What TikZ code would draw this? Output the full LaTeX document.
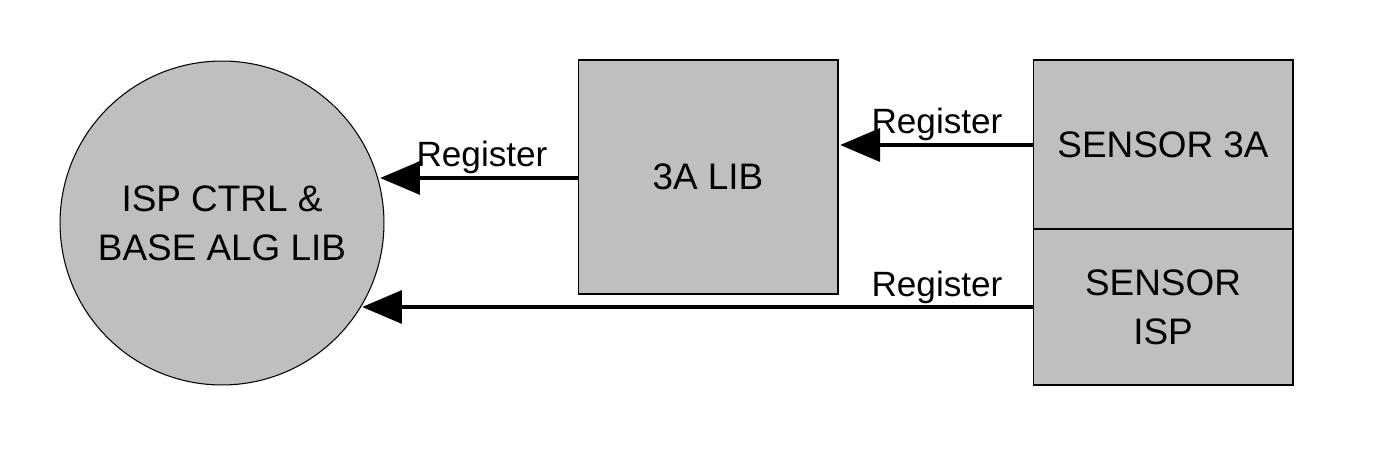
\documentclass[tikz,border=0pt]{standalone}
\usepackage{fontspec}
\setmainfont{Liberation Sans}
\usetikzlibrary{arrows.meta}
\begin{document}
\begin{tikzpicture}[x=0.02cm,y=-0.02cm,
  blk/.style={draw=black,fill=gray!50!white,line width=0.6pt,inner sep=0pt,font=\fontsize{21}{26}\selectfont,align=center},
  arr/.style={line width=2.8pt,-{Triangle[length=0.8cm,width=0.65cm]}},
  lbl/.style={font=\fontsize{20}{24}\selectfont,inner sep=0pt}]
\useasboundingbox[fill=white] (0,0) rectangle (1399,456);
\node[blk,circle,minimum size=6.48cm] (isp) at (222,223) {ISP CTRL \&\\[2pt]BASE ALG LIB};
\node[blk,minimum width=5.2cm,minimum height=4.68cm] (lib) at (708,177) {3A LIB};
\node[blk,minimum width=5.2cm,minimum height=3.38cm] (s3a) at (1163,144.5) {SENSOR 3A};
\node[blk,minimum width=5.2cm,minimum height=3.12cm] (sisp) at (1163,307) {SENSOR\\[2pt]ISP};
\coordinate (a1) at (380,178);
\coordinate (a2) at (840,145);
\coordinate (a3) at (362,307);
\draw[arr] (lib.west |- a1) -- (a1);
\draw[arr] (s3a.west |- a2) -- (a2);
\draw[arr] (sisp.west |- a3) -- (a3);
\node[lbl] (l1) at (482,157) {Register};
\node[lbl] (l2) at (937,124) {Register};
\node[lbl] (l3) at (937,287) {Register};
\end{tikzpicture}
\end{document}
